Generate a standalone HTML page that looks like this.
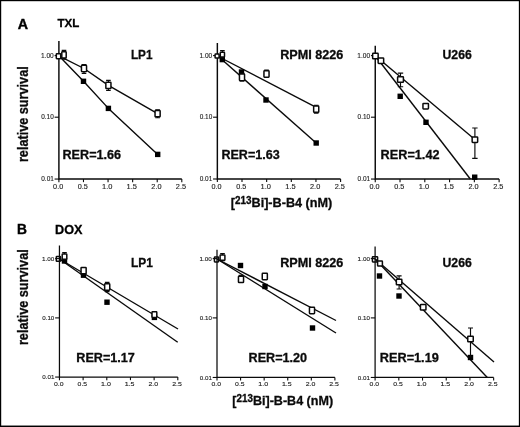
<!DOCTYPE html>
<html lang="en"><head><meta charset="utf-8"><title>Figure</title>
<style>
html,body{margin:0;padding:0;background:#fff;}
body{width:520px;height:427px;overflow:hidden;}
svg{display:block;}
</style></head><body>
<svg width="520" height="427" viewBox="0 0 520 427" font-family="'Liberation Sans', Arial, Helvetica, sans-serif">
<rect x="0" y="0" width="520" height="427" fill="#fff"/>
<rect x="0" y="0" width="520" height="1.2" fill="#000"/>
<rect x="0" y="0" width="1.2" height="427" fill="#000"/>
<rect x="518.85" y="0" width="1.15" height="427" fill="#000"/>
<rect x="0" y="425.55" width="520" height="1.45" fill="#000"/>
<g id="A1">
<path d="M58.9 41.1V179.05H181.8" fill="none" stroke="#0a0a0a" stroke-width="1.45" stroke-linejoin="miter"/>
<line x1="54.6" x2="58.9" y1="55.6" y2="55.6" stroke="#0a0a0a" stroke-width="1.1"/>
<text x="41" y="57.7" font-size="6.8" textLength="12.78" lengthAdjust="spacingAndGlyphs" fill="#1c1c1c" stroke="#1c1c1c" stroke-width="0.12">1.00</text>
<line x1="54.6" x2="58.9" y1="117.2" y2="117.2" stroke="#0a0a0a" stroke-width="1.1"/>
<text x="41.27" y="119.3" font-size="6.8" textLength="12.51" lengthAdjust="spacingAndGlyphs" fill="#1c1c1c" stroke="#1c1c1c" stroke-width="0.12">0.10</text>
<line x1="54.6" x2="58.9" y1="179.05" y2="179.05" stroke="#0a0a0a" stroke-width="1.1"/>
<text x="41.27" y="181.15" font-size="6.8" textLength="12.57" lengthAdjust="spacingAndGlyphs" fill="#1c1c1c" stroke="#1c1c1c" stroke-width="0.12">0.01</text>
<line x1="58.9" x2="58.9" y1="179.05" y2="182.15" stroke="#0a0a0a" stroke-width="1.1"/>
<text x="53.14" y="188.65" font-size="6.8" textLength="10.06" lengthAdjust="spacingAndGlyphs" fill="#1c1c1c" stroke="#1c1c1c" stroke-width="0.12">0.0</text>
<line x1="83.48" x2="83.48" y1="179.05" y2="182.15" stroke="#0a0a0a" stroke-width="1.1"/>
<text x="77.72" y="188.65" font-size="6.8" textLength="10.06" lengthAdjust="spacingAndGlyphs" fill="#1c1c1c" stroke="#1c1c1c" stroke-width="0.12">0.5</text>
<line x1="108.06" x2="108.06" y1="179.05" y2="182.15" stroke="#0a0a0a" stroke-width="1.1"/>
<text x="102" y="188.65" font-size="6.8" textLength="10.37" lengthAdjust="spacingAndGlyphs" fill="#1c1c1c" stroke="#1c1c1c" stroke-width="0.12">1.0</text>
<line x1="132.64" x2="132.64" y1="179.05" y2="182.15" stroke="#0a0a0a" stroke-width="1.1"/>
<text x="126.58" y="188.65" font-size="6.8" textLength="10.37" lengthAdjust="spacingAndGlyphs" fill="#1c1c1c" stroke="#1c1c1c" stroke-width="0.12">1.5</text>
<line x1="157.22" x2="157.22" y1="179.05" y2="182.15" stroke="#0a0a0a" stroke-width="1.1"/>
<text x="151.31" y="188.65" font-size="6.8" textLength="10.21" lengthAdjust="spacingAndGlyphs" fill="#1c1c1c" stroke="#1c1c1c" stroke-width="0.12">2.0</text>
<line x1="181.8" x2="181.8" y1="179.05" y2="182.15" stroke="#0a0a0a" stroke-width="1.1"/>
<text x="175.89" y="188.65" font-size="6.8" textLength="10.21" lengthAdjust="spacingAndGlyphs" fill="#1c1c1c" stroke="#1c1c1c" stroke-width="0.12">2.5</text>
<polyline points="58.9,55.8 84,68.5 108.4,85.4 157.6,113.7" fill="none" stroke="#0a0a0a" stroke-width="1.4" stroke-linejoin="round"/>
<polyline points="58.9,55.8 83.5,81.3 108.4,108.4 157.7,154.4" fill="none" stroke="#0a0a0a" stroke-width="1.4" stroke-linejoin="round"/>
<rect x="80.8" y="78.6" width="5.4" height="5.4" fill="#000"/>
<rect x="105.7" y="105.7" width="5.4" height="5.4" fill="#000"/>
<rect x="155" y="151.7" width="5.4" height="5.4" fill="#000"/>
<rect x="56.3" y="53.7" width="4.4" height="5.0" rx="0.6" fill="#fff" stroke="#0a0a0a" stroke-width="1.5"/>
<path d="M64 50.3V59.1M61.7 50.3h4.6M61.7 59.1h4.6" fill="none" stroke="#0a0a0a" stroke-width="1.15"/>
<rect x="61.8" y="51.7" width="4.4" height="6.4" rx="0.6" fill="#fff" stroke="#0a0a0a" stroke-width="1.5"/>
<path d="M84 64.5V73.5M81.7 64.5h4.6M81.7 73.5h4.6" fill="none" stroke="#0a0a0a" stroke-width="1.15"/>
<rect x="81.45" y="65.35" width="5.1" height="6.3" rx="0.6" fill="#fff" stroke="#0a0a0a" stroke-width="1.5"/>
<path d="M108.4 80.4V90.4M106.1 80.4h4.6M106.1 90.4h4.6" fill="none" stroke="#0a0a0a" stroke-width="1.15"/>
<rect x="105.85" y="82.25" width="5.1" height="6.3" rx="0.6" fill="#fff" stroke="#0a0a0a" stroke-width="1.5"/>
<path d="M157.6 109.7V117.7M155.3 109.7h4.6M155.3 117.7h4.6" fill="none" stroke="#0a0a0a" stroke-width="1.15"/>
<rect x="155.05" y="110.55" width="5.1" height="6.3" rx="0.6" fill="#fff" stroke="#0a0a0a" stroke-width="1.5"/>
<text x="130.95" y="58.8" font-size="13" font-weight="bold" textLength="21.51" lengthAdjust="spacingAndGlyphs" fill="#0a0a0a" stroke="#0a0a0a" stroke-width="0.3">LP1</text>
<text x="62.49" y="158.8" font-size="13" font-weight="bold" textLength="58.61" lengthAdjust="spacingAndGlyphs" fill="#0a0a0a" stroke="#0a0a0a" stroke-width="0.3">RER=1.66</text>
</g>
<g id="A2">
<path d="M217.35 43V179H340.6" fill="none" stroke="#0a0a0a" stroke-width="1.45" stroke-linejoin="miter"/>
<line x1="213.05" x2="217.35" y1="55.6" y2="55.6" stroke="#0a0a0a" stroke-width="1.1"/>
<text x="199.45" y="57.7" font-size="6.8" textLength="12.78" lengthAdjust="spacingAndGlyphs" fill="#1c1c1c" stroke="#1c1c1c" stroke-width="0.12">1.00</text>
<line x1="213.05" x2="217.35" y1="117.2" y2="117.2" stroke="#0a0a0a" stroke-width="1.1"/>
<text x="199.72" y="119.3" font-size="6.8" textLength="12.51" lengthAdjust="spacingAndGlyphs" fill="#1c1c1c" stroke="#1c1c1c" stroke-width="0.12">0.10</text>
<line x1="213.05" x2="217.35" y1="179" y2="179" stroke="#0a0a0a" stroke-width="1.1"/>
<text x="199.72" y="181.1" font-size="6.8" textLength="12.57" lengthAdjust="spacingAndGlyphs" fill="#1c1c1c" stroke="#1c1c1c" stroke-width="0.12">0.01</text>
<line x1="217.35" x2="217.35" y1="179" y2="182.1" stroke="#0a0a0a" stroke-width="1.1"/>
<text x="211.59" y="188.6" font-size="6.8" textLength="10.06" lengthAdjust="spacingAndGlyphs" fill="#1c1c1c" stroke="#1c1c1c" stroke-width="0.12">0.0</text>
<line x1="242" x2="242" y1="179" y2="182.1" stroke="#0a0a0a" stroke-width="1.1"/>
<text x="236.24" y="188.6" font-size="6.8" textLength="10.06" lengthAdjust="spacingAndGlyphs" fill="#1c1c1c" stroke="#1c1c1c" stroke-width="0.12">0.5</text>
<line x1="266.65" x2="266.65" y1="179" y2="182.1" stroke="#0a0a0a" stroke-width="1.1"/>
<text x="260.59" y="188.6" font-size="6.8" textLength="10.37" lengthAdjust="spacingAndGlyphs" fill="#1c1c1c" stroke="#1c1c1c" stroke-width="0.12">1.0</text>
<line x1="291.3" x2="291.3" y1="179" y2="182.1" stroke="#0a0a0a" stroke-width="1.1"/>
<text x="285.24" y="188.6" font-size="6.8" textLength="10.37" lengthAdjust="spacingAndGlyphs" fill="#1c1c1c" stroke="#1c1c1c" stroke-width="0.12">1.5</text>
<line x1="315.95" x2="315.95" y1="179" y2="182.1" stroke="#0a0a0a" stroke-width="1.1"/>
<text x="310.04" y="188.6" font-size="6.8" textLength="10.21" lengthAdjust="spacingAndGlyphs" fill="#1c1c1c" stroke="#1c1c1c" stroke-width="0.12">2.0</text>
<line x1="340.6" x2="340.6" y1="179" y2="182.1" stroke="#0a0a0a" stroke-width="1.1"/>
<text x="334.69" y="188.6" font-size="6.8" textLength="10.21" lengthAdjust="spacingAndGlyphs" fill="#1c1c1c" stroke="#1c1c1c" stroke-width="0.12">2.5</text>
<polyline points="217.35,56 316.2,107.3" fill="none" stroke="#0a0a0a" stroke-width="1.4" stroke-linejoin="round"/>
<polyline points="217.35,55.5 316.2,143" fill="none" stroke="#0a0a0a" stroke-width="1.4" stroke-linejoin="round"/>
<rect x="219.6" y="56.9" width="5.4" height="5.4" fill="#000"/>
<rect x="238.8" y="69.3" width="5.4" height="5.4" fill="#000"/>
<rect x="263.3" y="97.3" width="5.4" height="5.4" fill="#000"/>
<rect x="313.5" y="140.3" width="5.4" height="5.4" fill="#000"/>
<rect x="215.1" y="53.9" width="4.0" height="4.2" rx="0.6" fill="#fff" stroke="#0a0a0a" stroke-width="1.5"/>
<path d="M222.4 50.6V57.6M220.1 50.6h4.6M220.1 57.6h4.6" fill="none" stroke="#0a0a0a" stroke-width="1.15"/>
<rect x="220.3" y="52.2" width="4.2" height="4.8" rx="0.6" fill="#fff" stroke="#0a0a0a" stroke-width="1.5"/>
<path d="M242 73.3V80.9M239.7 73.3h4.6M239.7 80.9h4.6" fill="none" stroke="#0a0a0a" stroke-width="1.15"/>
<rect x="239.45" y="73.9" width="5.1" height="6.8" rx="0.6" fill="#fff" stroke="#0a0a0a" stroke-width="1.5"/>
<path d="M266.5 70V77M264.2 70h4.6M264.2 77h4.6" fill="none" stroke="#0a0a0a" stroke-width="1.15"/>
<rect x="263.95" y="70.85" width="5.1" height="6.3" rx="0.6" fill="#fff" stroke="#0a0a0a" stroke-width="1.5"/>
<path d="M316.2 105.2V113.2M313.9 105.2h4.6M313.9 113.2h4.6" fill="none" stroke="#0a0a0a" stroke-width="1.15"/>
<rect x="313.65" y="106.05" width="5.1" height="6.3" rx="0.6" fill="#fff" stroke="#0a0a0a" stroke-width="1.5"/>
<text x="280.19" y="58.8" font-size="13" font-weight="bold" textLength="63.22" lengthAdjust="spacingAndGlyphs" fill="#0a0a0a" stroke="#0a0a0a" stroke-width="0.3">RPMI 8226</text>
<text x="221.39" y="158.8" font-size="13" font-weight="bold" textLength="58.41" lengthAdjust="spacingAndGlyphs" fill="#0a0a0a" stroke="#0a0a0a" stroke-width="0.3">RER=1.63</text>
</g>
<g id="A3">
<path d="M375.25 45.7V179.05H499.12" fill="none" stroke="#0a0a0a" stroke-width="1.45" stroke-linejoin="miter"/>
<line x1="370.95" x2="375.25" y1="55.6" y2="55.6" stroke="#0a0a0a" stroke-width="1.1"/>
<text x="357.35" y="57.7" font-size="6.8" textLength="12.78" lengthAdjust="spacingAndGlyphs" fill="#1c1c1c" stroke="#1c1c1c" stroke-width="0.12">1.00</text>
<line x1="370.95" x2="375.25" y1="117.2" y2="117.2" stroke="#0a0a0a" stroke-width="1.1"/>
<text x="357.62" y="119.3" font-size="6.8" textLength="12.51" lengthAdjust="spacingAndGlyphs" fill="#1c1c1c" stroke="#1c1c1c" stroke-width="0.12">0.10</text>
<line x1="370.95" x2="375.25" y1="179.05" y2="179.05" stroke="#0a0a0a" stroke-width="1.1"/>
<text x="357.62" y="181.15" font-size="6.8" textLength="12.57" lengthAdjust="spacingAndGlyphs" fill="#1c1c1c" stroke="#1c1c1c" stroke-width="0.12">0.01</text>
<line x1="375.25" x2="375.25" y1="179.05" y2="182.15" stroke="#0a0a0a" stroke-width="1.1"/>
<text x="369.49" y="188.65" font-size="6.8" textLength="10.06" lengthAdjust="spacingAndGlyphs" fill="#1c1c1c" stroke="#1c1c1c" stroke-width="0.12">0.0</text>
<line x1="400.02" x2="400.02" y1="179.05" y2="182.15" stroke="#0a0a0a" stroke-width="1.1"/>
<text x="394.27" y="188.65" font-size="6.8" textLength="10.06" lengthAdjust="spacingAndGlyphs" fill="#1c1c1c" stroke="#1c1c1c" stroke-width="0.12">0.5</text>
<line x1="424.8" x2="424.8" y1="179.05" y2="182.15" stroke="#0a0a0a" stroke-width="1.1"/>
<text x="418.74" y="188.65" font-size="6.8" textLength="10.37" lengthAdjust="spacingAndGlyphs" fill="#1c1c1c" stroke="#1c1c1c" stroke-width="0.12">1.0</text>
<line x1="449.57" x2="449.57" y1="179.05" y2="182.15" stroke="#0a0a0a" stroke-width="1.1"/>
<text x="443.51" y="188.65" font-size="6.8" textLength="10.37" lengthAdjust="spacingAndGlyphs" fill="#1c1c1c" stroke="#1c1c1c" stroke-width="0.12">1.5</text>
<line x1="474.35" x2="474.35" y1="179.05" y2="182.15" stroke="#0a0a0a" stroke-width="1.1"/>
<text x="468.44" y="188.65" font-size="6.8" textLength="10.21" lengthAdjust="spacingAndGlyphs" fill="#1c1c1c" stroke="#1c1c1c" stroke-width="0.12">2.0</text>
<line x1="499.12" x2="499.12" y1="179.05" y2="182.15" stroke="#0a0a0a" stroke-width="1.1"/>
<text x="493.22" y="188.65" font-size="6.8" textLength="10.21" lengthAdjust="spacingAndGlyphs" fill="#1c1c1c" stroke="#1c1c1c" stroke-width="0.12">2.5</text>
<polyline points="375.25,55.8 475.2,139.7" fill="none" stroke="#0a0a0a" stroke-width="1.4" stroke-linejoin="round"/>
<polyline points="375.25,55.8 470.3,179" fill="none" stroke="#0a0a0a" stroke-width="1.4" stroke-linejoin="round"/>
<rect x="397.5" y="93.6" width="5.4" height="5.4" fill="#000"/>
<rect x="423.3" y="119.6" width="5.4" height="5.4" fill="#000"/>
<rect x="472" y="174.5" width="5.4" height="5.4" fill="#000"/>
<rect x="372.65" y="53.35" width="5.5" height="5.5" rx="0.6" fill="#fff" stroke="#0a0a0a" stroke-width="1.5"/>
<rect x="378.15" y="57.95" width="5.5" height="5.5" rx="0.6" fill="#fff" stroke="#0a0a0a" stroke-width="1.5"/>
<path d="M400.5 73.1V86.7M397.8 73.1h5.4M397.8 86.7h5.4" fill="none" stroke="#0a0a0a" stroke-width="1.15"/>
<rect x="397.6" y="76.7" width="5.8" height="5.6" rx="0.6" fill="#fff" stroke="#0a0a0a" stroke-width="1.5"/>
<rect x="422.95" y="103.45" width="5.5" height="5.5" rx="0.6" fill="#fff" stroke="#0a0a0a" stroke-width="1.5"/>
<path d="M474.9 128V158.3M472.2 128h5.4M472.2 158.3h5.4" fill="none" stroke="#0a0a0a" stroke-width="1.15"/>
<rect x="472.15" y="136.95" width="5.5" height="5.5" rx="0.6" fill="#fff" stroke="#0a0a0a" stroke-width="1.5"/>
<text x="442.52" y="58.8" font-size="13" font-weight="bold" textLength="29.28" lengthAdjust="spacingAndGlyphs" fill="#0a0a0a" stroke="#0a0a0a" stroke-width="0.3">U266</text>
<text x="380.59" y="158.7" font-size="13" font-weight="bold" textLength="58.92" lengthAdjust="spacingAndGlyphs" fill="#0a0a0a" stroke="#0a0a0a" stroke-width="0.3">RER=1.42</text>
</g>
<g id="B1">
<path d="M59.45 245.55V377.05H177.8" fill="none" stroke="#0a0a0a" stroke-width="1.25" stroke-linejoin="miter"/>
<line x1="55.15" x2="59.45" y1="258.6" y2="258.6" stroke="#0a0a0a" stroke-width="1.1"/>
<text x="41.97" y="260.7" font-size="6.0" textLength="12.35" lengthAdjust="spacingAndGlyphs" fill="#1c1c1c" stroke="#1c1c1c" stroke-width="0.12">1.00</text>
<line x1="55.15" x2="59.45" y1="317.9" y2="317.9" stroke="#0a0a0a" stroke-width="1.1"/>
<text x="42.22" y="320" font-size="6.0" textLength="12.09" lengthAdjust="spacingAndGlyphs" fill="#1c1c1c" stroke="#1c1c1c" stroke-width="0.12">0.10</text>
<line x1="55.15" x2="59.45" y1="377.05" y2="377.05" stroke="#0a0a0a" stroke-width="1.1"/>
<text x="42.22" y="379.15" font-size="6.0" textLength="12.16" lengthAdjust="spacingAndGlyphs" fill="#1c1c1c" stroke="#1c1c1c" stroke-width="0.12">0.01</text>
<line x1="59.45" x2="59.45" y1="377.05" y2="380.15" stroke="#0a0a0a" stroke-width="1.1"/>
<text x="53.95" y="386.05" font-size="6.0" textLength="9.53" lengthAdjust="spacingAndGlyphs" fill="#1c1c1c" stroke="#1c1c1c" stroke-width="0.12">0.0</text>
<line x1="83.12" x2="83.12" y1="377.05" y2="380.15" stroke="#0a0a0a" stroke-width="1.1"/>
<text x="77.62" y="386.05" font-size="6.0" textLength="9.53" lengthAdjust="spacingAndGlyphs" fill="#1c1c1c" stroke="#1c1c1c" stroke-width="0.12">0.5</text>
<line x1="106.79" x2="106.79" y1="377.05" y2="380.15" stroke="#0a0a0a" stroke-width="1.1"/>
<text x="101" y="386.05" font-size="6.0" textLength="9.83" lengthAdjust="spacingAndGlyphs" fill="#1c1c1c" stroke="#1c1c1c" stroke-width="0.12">1.0</text>
<line x1="130.46" x2="130.46" y1="377.05" y2="380.15" stroke="#0a0a0a" stroke-width="1.1"/>
<text x="124.67" y="386.05" font-size="6.0" textLength="9.83" lengthAdjust="spacingAndGlyphs" fill="#1c1c1c" stroke="#1c1c1c" stroke-width="0.12">1.5</text>
<line x1="154.13" x2="154.13" y1="377.05" y2="380.15" stroke="#0a0a0a" stroke-width="1.1"/>
<text x="148.49" y="386.05" font-size="6.0" textLength="9.68" lengthAdjust="spacingAndGlyphs" fill="#1c1c1c" stroke="#1c1c1c" stroke-width="0.12">2.0</text>
<line x1="177.8" x2="177.8" y1="377.05" y2="380.15" stroke="#0a0a0a" stroke-width="1.1"/>
<text x="172.16" y="386.05" font-size="6.0" textLength="9.68" lengthAdjust="spacingAndGlyphs" fill="#1c1c1c" stroke="#1c1c1c" stroke-width="0.12">2.5</text>
<polyline points="59.45,259 178,329" fill="none" stroke="#0a0a0a" stroke-width="1.4" stroke-linejoin="round"/>
<polyline points="59.45,259 177.7,342.3" fill="none" stroke="#0a0a0a" stroke-width="1.4" stroke-linejoin="round"/>
<rect x="61.8" y="258.3" width="5.4" height="5.4" fill="#000"/>
<rect x="80.8" y="272.5" width="5.4" height="5.4" fill="#000"/>
<rect x="104.3" y="299.5" width="5.4" height="5.4" fill="#000"/>
<rect x="151.7" y="314.7" width="5.4" height="5.4" fill="#000"/>
<rect x="56.3" y="256.5" width="4.2" height="4.8" rx="0.6" fill="none" stroke="#0a0a0a" stroke-width="1.5"/>
<path d="M64.5 252.6V259.6M62.2 252.6h4.6M62.2 259.6h4.6" fill="none" stroke="#0a0a0a" stroke-width="1.15"/>
<rect x="62.2" y="253.9" width="4.6" height="5.4" rx="0.6" fill="#fff" stroke="#0a0a0a" stroke-width="1.5"/>
<path d="M83.6 267.6V273.6M81.3 267.6h4.6M81.3 273.6h4.6" fill="none" stroke="#0a0a0a" stroke-width="1.15"/>
<rect x="81.05" y="267.45" width="5.1" height="6.3" rx="0.6" fill="#fff" stroke="#0a0a0a" stroke-width="1.5"/>
<path d="M107.2 282.4V291.6M104.9 282.4h4.6M104.9 291.6h4.6" fill="none" stroke="#0a0a0a" stroke-width="1.15"/>
<rect x="104.65" y="283.85" width="5.1" height="6.3" rx="0.6" fill="#fff" stroke="#0a0a0a" stroke-width="1.5"/>
<path d="M154.4 311.6V317.6M152.1 311.6h4.6M152.1 317.6h4.6" fill="none" stroke="#0a0a0a" stroke-width="1.15"/>
<rect x="152" y="311.8" width="4.8" height="5.6" rx="0.6" fill="#fff" stroke="#0a0a0a" stroke-width="1.5"/>
<text x="130.94" y="266.8" font-size="13" font-weight="bold" textLength="21.83" lengthAdjust="spacingAndGlyphs" fill="#0a0a0a" stroke="#0a0a0a" stroke-width="0.3">LP1</text>
<text x="76.29" y="362.3" font-size="13" font-weight="bold" textLength="58.61" lengthAdjust="spacingAndGlyphs" fill="#0a0a0a" stroke="#0a0a0a" stroke-width="0.3">RER=1.17</text>
</g>
<g id="B2">
<path d="M217 249.65V377.45H334.9" fill="none" stroke="#0a0a0a" stroke-width="1.25" stroke-linejoin="miter"/>
<line x1="212.7" x2="217" y1="258.6" y2="258.6" stroke="#0a0a0a" stroke-width="1.1"/>
<text x="199.52" y="260.7" font-size="6.0" textLength="12.35" lengthAdjust="spacingAndGlyphs" fill="#1c1c1c" stroke="#1c1c1c" stroke-width="0.12">1.00</text>
<line x1="212.7" x2="217" y1="317.9" y2="317.9" stroke="#0a0a0a" stroke-width="1.1"/>
<text x="199.77" y="320" font-size="6.0" textLength="12.09" lengthAdjust="spacingAndGlyphs" fill="#1c1c1c" stroke="#1c1c1c" stroke-width="0.12">0.10</text>
<line x1="212.7" x2="217" y1="377.45" y2="377.45" stroke="#0a0a0a" stroke-width="1.1"/>
<text x="199.77" y="379.55" font-size="6.0" textLength="12.16" lengthAdjust="spacingAndGlyphs" fill="#1c1c1c" stroke="#1c1c1c" stroke-width="0.12">0.01</text>
<line x1="217" x2="217" y1="377.45" y2="380.55" stroke="#0a0a0a" stroke-width="1.1"/>
<text x="211.5" y="386.45" font-size="6.0" textLength="9.53" lengthAdjust="spacingAndGlyphs" fill="#1c1c1c" stroke="#1c1c1c" stroke-width="0.12">0.0</text>
<line x1="240.58" x2="240.58" y1="377.45" y2="380.55" stroke="#0a0a0a" stroke-width="1.1"/>
<text x="235.08" y="386.45" font-size="6.0" textLength="9.53" lengthAdjust="spacingAndGlyphs" fill="#1c1c1c" stroke="#1c1c1c" stroke-width="0.12">0.5</text>
<line x1="264.16" x2="264.16" y1="377.45" y2="380.55" stroke="#0a0a0a" stroke-width="1.1"/>
<text x="258.37" y="386.45" font-size="6.0" textLength="9.83" lengthAdjust="spacingAndGlyphs" fill="#1c1c1c" stroke="#1c1c1c" stroke-width="0.12">1.0</text>
<line x1="287.74" x2="287.74" y1="377.45" y2="380.55" stroke="#0a0a0a" stroke-width="1.1"/>
<text x="281.95" y="386.45" font-size="6.0" textLength="9.83" lengthAdjust="spacingAndGlyphs" fill="#1c1c1c" stroke="#1c1c1c" stroke-width="0.12">1.5</text>
<line x1="311.32" x2="311.32" y1="377.45" y2="380.55" stroke="#0a0a0a" stroke-width="1.1"/>
<text x="305.68" y="386.45" font-size="6.0" textLength="9.68" lengthAdjust="spacingAndGlyphs" fill="#1c1c1c" stroke="#1c1c1c" stroke-width="0.12">2.0</text>
<line x1="334.9" x2="334.9" y1="377.45" y2="380.55" stroke="#0a0a0a" stroke-width="1.1"/>
<text x="329.26" y="386.45" font-size="6.0" textLength="9.68" lengthAdjust="spacingAndGlyphs" fill="#1c1c1c" stroke="#1c1c1c" stroke-width="0.12">2.5</text>
<polyline points="217,259 336,320.5" fill="none" stroke="#0a0a0a" stroke-width="1.4" stroke-linejoin="round"/>
<polyline points="217,259 336,333" fill="none" stroke="#0a0a0a" stroke-width="1.4" stroke-linejoin="round"/>
<rect x="237.8" y="262.8" width="5.4" height="5.4" fill="#000"/>
<rect x="262.3" y="283.8" width="5.4" height="5.4" fill="#000"/>
<rect x="309.8" y="325.3" width="5.4" height="5.4" fill="#000"/>
<rect x="214.4" y="257.1" width="4.2" height="4.8" rx="0.6" fill="none" stroke="#0a0a0a" stroke-width="1.5"/>
<path d="M222.5 253.6V260.6M220.2 253.6h4.6M220.2 260.6h4.6" fill="none" stroke="#0a0a0a" stroke-width="1.15"/>
<rect x="220.1" y="254.9" width="4.8" height="5.4" rx="0.6" fill="#fff" stroke="#0a0a0a" stroke-width="1.5"/>
<path d="M241 275.4V282.4M238.7 275.4h4.6M238.7 282.4h4.6" fill="none" stroke="#0a0a0a" stroke-width="1.15"/>
<rect x="238.45" y="276.25" width="5.1" height="6.3" rx="0.6" fill="#fff" stroke="#0a0a0a" stroke-width="1.5"/>
<path d="M264.8 273.5V279.5M262.5 273.5h4.6M262.5 279.5h4.6" fill="none" stroke="#0a0a0a" stroke-width="1.15"/>
<rect x="262.25" y="273.35" width="5.1" height="6.3" rx="0.6" fill="#fff" stroke="#0a0a0a" stroke-width="1.5"/>
<path d="M312 307.5V313.5M309.7 307.5h4.6M309.7 313.5h4.6" fill="none" stroke="#0a0a0a" stroke-width="1.15"/>
<rect x="309.45" y="307.35" width="5.1" height="6.3" rx="0.6" fill="#fff" stroke="#0a0a0a" stroke-width="1.5"/>
<text x="280.19" y="266.8" font-size="13" font-weight="bold" textLength="63.22" lengthAdjust="spacingAndGlyphs" fill="#0a0a0a" stroke="#0a0a0a" stroke-width="0.3">RPMI 8226</text>
<text x="248.59" y="362.3" font-size="13" font-weight="bold" textLength="58.51" lengthAdjust="spacingAndGlyphs" fill="#0a0a0a" stroke="#0a0a0a" stroke-width="0.3">RER=1.20</text>
</g>
<g id="B3">
<path d="M375.1 246.55V377.45H493.65" fill="none" stroke="#0a0a0a" stroke-width="1.25" stroke-linejoin="miter"/>
<line x1="370.8" x2="375.1" y1="258.6" y2="258.6" stroke="#0a0a0a" stroke-width="1.1"/>
<text x="357.62" y="260.7" font-size="6.0" textLength="12.35" lengthAdjust="spacingAndGlyphs" fill="#1c1c1c" stroke="#1c1c1c" stroke-width="0.12">1.00</text>
<line x1="370.8" x2="375.1" y1="317.9" y2="317.9" stroke="#0a0a0a" stroke-width="1.1"/>
<text x="357.87" y="320" font-size="6.0" textLength="12.09" lengthAdjust="spacingAndGlyphs" fill="#1c1c1c" stroke="#1c1c1c" stroke-width="0.12">0.10</text>
<line x1="370.8" x2="375.1" y1="377.45" y2="377.45" stroke="#0a0a0a" stroke-width="1.1"/>
<text x="357.87" y="379.55" font-size="6.0" textLength="12.16" lengthAdjust="spacingAndGlyphs" fill="#1c1c1c" stroke="#1c1c1c" stroke-width="0.12">0.01</text>
<line x1="375.1" x2="375.1" y1="377.45" y2="380.55" stroke="#0a0a0a" stroke-width="1.1"/>
<text x="369.6" y="386.45" font-size="6.0" textLength="9.53" lengthAdjust="spacingAndGlyphs" fill="#1c1c1c" stroke="#1c1c1c" stroke-width="0.12">0.0</text>
<line x1="398.81" x2="398.81" y1="377.45" y2="380.55" stroke="#0a0a0a" stroke-width="1.1"/>
<text x="393.31" y="386.45" font-size="6.0" textLength="9.53" lengthAdjust="spacingAndGlyphs" fill="#1c1c1c" stroke="#1c1c1c" stroke-width="0.12">0.5</text>
<line x1="422.52" x2="422.52" y1="377.45" y2="380.55" stroke="#0a0a0a" stroke-width="1.1"/>
<text x="416.73" y="386.45" font-size="6.0" textLength="9.83" lengthAdjust="spacingAndGlyphs" fill="#1c1c1c" stroke="#1c1c1c" stroke-width="0.12">1.0</text>
<line x1="446.23" x2="446.23" y1="377.45" y2="380.55" stroke="#0a0a0a" stroke-width="1.1"/>
<text x="440.44" y="386.45" font-size="6.0" textLength="9.83" lengthAdjust="spacingAndGlyphs" fill="#1c1c1c" stroke="#1c1c1c" stroke-width="0.12">1.5</text>
<line x1="469.94" x2="469.94" y1="377.45" y2="380.55" stroke="#0a0a0a" stroke-width="1.1"/>
<text x="464.3" y="386.45" font-size="6.0" textLength="9.68" lengthAdjust="spacingAndGlyphs" fill="#1c1c1c" stroke="#1c1c1c" stroke-width="0.12">2.0</text>
<line x1="493.65" x2="493.65" y1="377.45" y2="380.55" stroke="#0a0a0a" stroke-width="1.1"/>
<text x="488.01" y="386.45" font-size="6.0" textLength="9.68" lengthAdjust="spacingAndGlyphs" fill="#1c1c1c" stroke="#1c1c1c" stroke-width="0.12">2.5</text>
<polyline points="375.1,259 494,362" fill="none" stroke="#0a0a0a" stroke-width="1.4" stroke-linejoin="round"/>
<polyline points="375.1,259 487.3,377.4" fill="none" stroke="#0a0a0a" stroke-width="1.4" stroke-linejoin="round"/>
<rect x="376.8" y="273.3" width="5.4" height="5.4" fill="#000"/>
<rect x="396.3" y="293.3" width="5.4" height="5.4" fill="#000"/>
<rect x="467.8" y="354.8" width="5.4" height="5.4" fill="#000"/>
<rect x="372.4" y="256.7" width="5.2" height="5.2" rx="0.6" fill="none" stroke="#0a0a0a" stroke-width="1.5"/>
<rect x="377.6" y="261" width="4.8" height="5.0" rx="0.6" fill="#fff" stroke="#0a0a0a" stroke-width="1.5"/>
<path d="M399.1 275.8V289M396.6 275.8h5M396.6 289h5" fill="none" stroke="#0a0a0a" stroke-width="1.15"/>
<rect x="396.35" y="279.25" width="5.5" height="5.5" rx="0.6" fill="#fff" stroke="#0a0a0a" stroke-width="1.5"/>
<rect x="420.45" y="304.55" width="5.5" height="5.5" rx="0.6" fill="#fff" stroke="#0a0a0a" stroke-width="1.5"/>
<path d="M470.5 328V357M468 328h5M468 357h5" fill="none" stroke="#0a0a0a" stroke-width="1.15"/>
<rect x="467.75" y="336.25" width="5.5" height="5.5" rx="0.6" fill="#fff" stroke="#0a0a0a" stroke-width="1.5"/>
<text x="442.52" y="266.8" font-size="13" font-weight="bold" textLength="29.28" lengthAdjust="spacingAndGlyphs" fill="#0a0a0a" stroke="#0a0a0a" stroke-width="0.3">U266</text>
<text x="379.79" y="362.3" font-size="13" font-weight="bold" textLength="59.02" lengthAdjust="spacingAndGlyphs" fill="#0a0a0a" stroke="#0a0a0a" stroke-width="0.3">RER=1.19</text>
</g>
<text x="17.81" y="28.8" font-size="14.6" font-weight="bold" textLength="10.3" lengthAdjust="spacingAndGlyphs" fill="#000" stroke="#000" stroke-width="0.4">A</text>
<text x="57.43" y="26.6" font-size="11.6" font-weight="bold" textLength="21.86" lengthAdjust="spacingAndGlyphs" fill="#000" stroke="#000" stroke-width="0.3">TXL</text>
<text x="17.08" y="234.4" font-size="14.3" font-weight="bold" textLength="9.9" lengthAdjust="spacingAndGlyphs" fill="#000" stroke="#000" stroke-width="0.4">B</text>
<text x="55.09" y="234.2" font-size="13" font-weight="bold" textLength="27.45" lengthAdjust="spacingAndGlyphs" fill="#000" stroke="#000" stroke-width="0.3">DOX</text>
<text transform="translate(28,161.35) rotate(-90)" x="-0.76" y="0" font-size="14.2" font-weight="bold" textLength="95.82" lengthAdjust="spacingAndGlyphs" fill="#0a0a0a" stroke="#0a0a0a" stroke-width="0.3">relative survival</text>
<text transform="translate(27.8,344.35) rotate(-90)" x="-0.76" y="0" font-size="14.2" font-weight="bold" textLength="95.82" lengthAdjust="spacingAndGlyphs" fill="#0a0a0a" stroke="#0a0a0a" stroke-width="0.3">relative survival</text>
<text x="230.77" y="207.4" font-size="13" textLength="4.21" font-weight="bold" lengthAdjust="spacingAndGlyphs" fill="#0a0a0a" stroke="#0a0a0a" stroke-width="0.3">[</text>
<text x="234.98" y="204.1" font-size="10.2" textLength="16.55" font-weight="bold" lengthAdjust="spacingAndGlyphs" fill="#0a0a0a" stroke="#0a0a0a" stroke-width="0.3">213</text>
<text x="251.53" y="207.4" font-size="13" textLength="80.76" font-weight="bold" lengthAdjust="spacingAndGlyphs" fill="#0a0a0a" stroke="#0a0a0a" stroke-width="0.3">Bi]-B-B4 (nM)</text>
<text x="232.27" y="405.1" font-size="13" textLength="4.18" font-weight="bold" lengthAdjust="spacingAndGlyphs" fill="#0a0a0a" stroke="#0a0a0a" stroke-width="0.3">[</text>
<text x="236.46" y="401.8" font-size="10.2" textLength="16.45" font-weight="bold" lengthAdjust="spacingAndGlyphs" fill="#0a0a0a" stroke="#0a0a0a" stroke-width="0.3">213</text>
<text x="252.9" y="405.1" font-size="13" textLength="80.24" font-weight="bold" lengthAdjust="spacingAndGlyphs" fill="#0a0a0a" stroke="#0a0a0a" stroke-width="0.3">Bi]-B-B4 (nM)</text>
</svg>
</body></html>
